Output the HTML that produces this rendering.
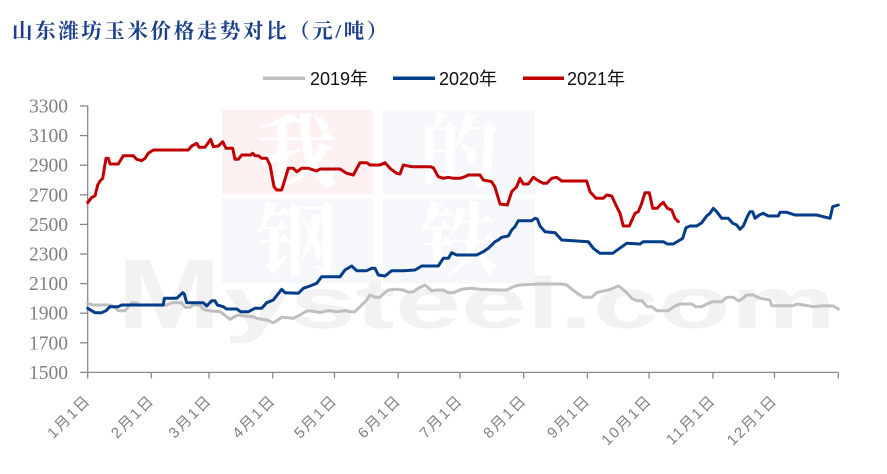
<!DOCTYPE html>
<html>
<head>
<meta charset="utf-8">
<style>
html,body{margin:0;padding:0;background:#fff;}
svg{display:block;}
</style>
</head>
<body>
<svg width="887" height="474" viewBox="0 0 887 474" xmlns="http://www.w3.org/2000/svg">
<rect x="0" y="0" width="887" height="474" fill="#ffffff"/>

<!-- Title -->
<text x="12" y="38" font-family="'Liberation Serif','Noto Serif CJK SC',serif" font-weight="700" font-size="20.5" letter-spacing="2.6" fill="#1b3f8b">山东潍坊玉米价格走势对比（元/吨）</text>

<!-- Legend -->
<g font-family="'Liberation Sans','Noto Sans CJK SC',sans-serif" font-size="18" fill="#111">
<line x1="263" y1="78.3" x2="305" y2="78.3" stroke="#bfbfbf" stroke-width="3.5"/>
<text x="310" y="85">2019年</text>
<line x1="393" y1="78.3" x2="435" y2="78.3" stroke="#023d8a" stroke-width="3.5"/>
<text x="439" y="85">2020年</text>
<line x1="523" y1="78.3" x2="564" y2="78.3" stroke="#c00000" stroke-width="3.5"/>
<text x="567" y="85">2021年</text>
</g>

<!-- Watermark -->
<rect x="222" y="110" width="151" height="84" fill="#fdf2f1"/>
<rect x="383" y="110" width="152" height="84" fill="#f5f7fb"/>
<rect x="222" y="199" width="151" height="84" fill="#f5f7fb"/>
<rect x="383" y="199" width="152" height="84" fill="#f5f7fb"/>
<g font-family="'Noto Serif CJK SC',serif" font-weight="700" font-size="80" fill="#ffffff" text-anchor="middle">
<text x="297" y="180">我</text>
<text x="459" y="180">的</text>
<text x="297" y="269">钢</text>
<text x="459" y="269">铁</text>
</g>
<g font-family="'Liberation Sans',sans-serif" font-weight="700" fill="#f2f2f2">
<text x="117" y="328" font-size="99" textLength="104" lengthAdjust="spacingAndGlyphs">M</text>
<text x="224" y="328" font-size="72" textLength="612" lengthAdjust="spacingAndGlyphs">ysteel.com</text>
</g>

<!-- Axes -->
<g stroke="#898989" stroke-width="1.3" fill="none">
<line x1="87.7" y1="105.5" x2="87.7" y2="372.4"/>
<line x1="87.7" y1="372.4" x2="838.3" y2="372.4"/>
<line x1="80" y1="106" x2="87.7" y2="106"/>
<line x1="80" y1="135.6" x2="87.7" y2="135.6"/>
<line x1="80" y1="165.2" x2="87.7" y2="165.2"/>
<line x1="80" y1="194.8" x2="87.7" y2="194.8"/>
<line x1="80" y1="224.4" x2="87.7" y2="224.4"/>
<line x1="80" y1="254" x2="87.7" y2="254"/>
<line x1="80" y1="283.6" x2="87.7" y2="283.6"/>
<line x1="80" y1="313.2" x2="87.7" y2="313.2"/>
<line x1="80" y1="342.8" x2="87.7" y2="342.8"/>
<line x1="80" y1="372.4" x2="87.7" y2="372.4"/>
<line x1="87.7" y1="372.4" x2="87.7" y2="378.5"/>
<line x1="151.4" y1="372.4" x2="151.4" y2="378.5"/>
<line x1="209" y1="372.4" x2="209" y2="378.5"/>
<line x1="272.8" y1="372.4" x2="272.8" y2="378.5"/>
<line x1="334.5" y1="372.4" x2="334.5" y2="378.5"/>
<line x1="398.2" y1="372.4" x2="398.2" y2="378.5"/>
<line x1="459.9" y1="372.4" x2="459.9" y2="378.5"/>
<line x1="523.7" y1="372.4" x2="523.7" y2="378.5"/>
<line x1="587.4" y1="372.4" x2="587.4" y2="378.5"/>
<line x1="649.1" y1="372.4" x2="649.1" y2="378.5"/>
<line x1="712.9" y1="372.4" x2="712.9" y2="378.5"/>
<line x1="774.5" y1="372.4" x2="774.5" y2="378.5"/>
<line x1="838.3" y1="372.4" x2="838.3" y2="378.5"/>
</g>

<!-- Y labels -->
<g font-family="'Liberation Serif',serif" font-size="19.5" fill="#808080" text-anchor="end">
<text x="68" y="112.5">3300</text>
<text x="68" y="142.1">3100</text>
<text x="68" y="171.7">2900</text>
<text x="68" y="201.3">2700</text>
<text x="68" y="230.9">2500</text>
<text x="68" y="260.5">2300</text>
<text x="68" y="290.1">2100</text>
<text x="68" y="319.7">1900</text>
<text x="68" y="349.3">1700</text>
<text x="68" y="378.9">1500</text>
</g>

<!-- X labels -->
<g font-family="'Liberation Sans','Noto Sans CJK SC',sans-serif" font-size="15" letter-spacing="1.8" fill="#808080" text-anchor="end">
<text transform="translate(91.5,401) rotate(-45)">1月1日</text>
<text transform="translate(155.2,401) rotate(-45)">2月1日</text>
<text transform="translate(212.8,401) rotate(-45)">3月1日</text>
<text transform="translate(276.6,401) rotate(-45)">4月1日</text>
<text transform="translate(338.3,401) rotate(-45)">5月1日</text>
<text transform="translate(402,401) rotate(-45)">6月1日</text>
<text transform="translate(463.7,401) rotate(-45)">7月1日</text>
<text transform="translate(527.5,401) rotate(-45)">8月1日</text>
<text transform="translate(591.2,401) rotate(-45)">9月1日</text>
<text transform="translate(652.9,401) rotate(-45)">10月1日</text>
<text transform="translate(716.7,401) rotate(-45)">11月1日</text>
<text transform="translate(778.3,401) rotate(-45)">12月1日</text>
</g>

<!-- Series -->
<g fill="none" stroke-width="3" stroke-linejoin="round" stroke-linecap="round">
<polyline stroke="#bfbfbf" points="87.7,303.3 93.3,305 110,305 115,307.3 118.3,310.7 125,310.7 131.7,302.7 136.7,303.3 140,305 166.7,305 171.7,302.7 181.7,302.7 185,307.3 190,307.3 193.3,305 200,305 203.3,309.3 208.3,310.7 220,311.7 223.3,314 230,319.3 233.3,317.3 238.3,315 245,316 253.3,316.7 256.7,318.3 266.7,320 273.3,322.7 276.7,320.7 281.7,317.3 293.3,318.3 300,315 306.7,311 311.7,311 320,312.5 328.3,310.5 336.7,311.7 345,310.5 350,311.7 355,311.7 361.7,305 366.7,300 370,295 375,297.3 380,297.3 383.3,294 388.3,290 395,289.3 403.3,290 408.3,292.3 413.3,291.7 418.3,288.3 425,285 431.7,290.7 436.7,290 443.3,290 448.3,292.7 453.3,292.7 461.7,289.3 470,288.3 480,289.3 498.3,290 506.7,290 515,286 520,285 540,284 561.7,284 566.7,285 575,291.7 583.3,297.3 591.7,297.3 596.7,292.7 603.3,291 608.3,290 613.3,288.3 618.3,286 621.7,288.3 626.7,292.7 631.7,298.3 636.7,300.7 641.7,300.7 647.3,306.7 651.7,306.7 656.7,310.7 668.3,310.7 675,306 680,304 691.7,304 696,306.7 701.7,306.7 708.3,303.3 713.3,301.7 721.7,301.7 726.7,297.3 733.3,297.3 738.3,300.7 741.7,299.3 746.7,295 753.3,295 760,298.3 770,300 771.7,305.7 793.3,305.7 796.7,304 803.3,305 813.3,306.7 823.3,305.7 833.3,306 838.3,309"/>
<polyline stroke="#023d8a" points="87.7,308.3 95,312.7 101.7,312.7 106,310.7 110,306.7 118.3,306.7 121.7,305 163.3,305 164.3,298.3 176.7,298.3 182.7,292.7 184.3,294 186.7,302.7 203.3,302.7 206.7,306 211.7,300.7 215,300.7 217.3,305 223.3,306.7 226.7,309 236.7,309 240.7,311.7 248.3,311.7 255,308.3 261.7,308.3 266.7,302.7 273.3,300 281.7,289.3 285,292.7 298.3,293.3 303.3,288.3 310,286 316.7,283.3 321.7,276.7 340,276.7 345,270 351.7,266 356.7,270.7 366.7,270.7 371.7,268.3 375,268.3 378.3,275 385,276 391.7,270.7 403.3,270.7 415,270 421.7,266 438.3,266 443.3,258.3 448.3,258.3 451.7,252.7 456.7,255 476.7,255 483.3,251.7 488.3,248.3 495,241.7 498.3,240 501.7,237.3 508.3,236 511.7,230 515,226.7 518.3,220.7 531.7,220.7 535,218.3 537.3,219 540,226 545,231.7 555,232.7 561.7,240 573.3,240.7 588.3,241.7 593.3,248.3 600,253.3 612.7,253.3 618.3,249.3 626.7,243.3 640,244 643.3,241.7 663.3,241.7 667.3,244 673.3,244 680,240 682.7,238.3 686,227.7 690,226 696.7,226 701.7,222.7 706.7,216 710,213.3 713.3,208.3 716.7,211.7 721.7,218.3 728.3,218.3 732.7,223.3 736.7,225 740,229.3 743.3,226 747.3,216.7 750,211.7 752.7,211.7 755,218.3 759.3,215 763.3,213.3 768.3,216 778.3,216 780,212.3 786.7,212.3 795,215 816.7,215 823.3,216.7 830,218.3 832.7,206.7 838.3,205"/>
<polyline stroke="#c00000" points="87.7,202.7 91.7,197.3 95,196 97.7,185 100,181 102.7,178.3 106,158.3 108.3,158.3 110,164 118.3,164 123.3,155.7 133.3,155.7 136.7,159.3 141.7,160.7 145,158.3 148.3,153.3 153.3,150 188.3,150 191.7,146 196.7,143.3 199,147.3 205,147.3 210.7,139.3 213.3,146.7 218.3,146 222.7,141.7 226,148.3 232.7,148.3 235,159.3 238.3,159.3 241.7,155 250.7,155 252.7,153.3 255,155.7 258.3,155.7 261.7,158.3 266.7,158.3 270,165 274,186.7 276.7,190 281.7,190 288.3,168.3 293.3,168.3 296.7,171.7 301.7,168.3 308.3,168.3 316.7,171 320,169 340,169 346.7,173.3 353.3,175 360,162.7 366.7,162.7 370,165 380,165 385,162.7 390,168.3 396.7,173.3 400,174 403.3,165 411.7,166.7 430,166.7 433.3,167.7 438.3,176.7 443.3,178.3 448.3,177.3 453.3,178.3 460,178.3 465,176.7 468.3,175 480,175 483.3,180 491.7,181.7 495,187.3 500,204 507.3,205 511.7,191.7 516.7,186.7 520,178.3 523.3,184 528.3,184 533.3,177.3 538.3,180.7 543.3,183.3 546.7,183.3 551.7,178.3 556.7,177.3 561.7,181 586.7,181 590,191.7 596,198.3 603.3,198.3 606.7,195 611.7,196 616.7,206.7 620,213.3 623.3,226 629.3,226 635,213.3 638.3,211.7 641.7,203.3 645,192.7 649.3,192.7 652.7,208.3 657.3,208.3 660,205 663.3,202.3 667.3,208.3 671.7,210 675,218.3 678.3,221.7"/>
</g>
</svg>
</body>
</html>
